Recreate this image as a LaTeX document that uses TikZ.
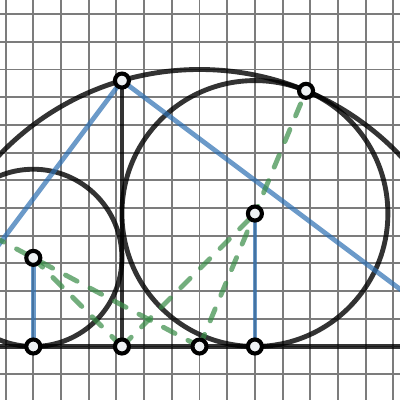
\documentclass[tikz,border=0pt]{standalone}
\usetikzlibrary{calc}
\definecolor{inkblack}{HTML}{000000}
\definecolor{inkblue}{HTML}{2D70B3}
\definecolor{inkgreen}{HTML}{388C46}
\definecolor{gridgray}{HTML}{7C7C7C}
\definecolor{dotfill}{HTML}{EEF1F3}
\tikzset{
  gridline/.style={draw=gridgray, line width=2pt},
  blackline/.style={draw=inkblack, draw opacity=0.8, line width=5pt},
  blueline/.style={draw=inkblue, draw opacity=0.7, line width=4.9pt},
  greenline/.style={draw=inkgreen, draw opacity=0.7, line width=5pt, line cap=round, dash pattern=on 13.5pt off 15pt},
  dotmark/.style={circle, draw=black, fill=dotfill, line width=4.2pt, minimum size=14.4pt, inner sep=0pt},
}
\begin{document}
\begin{tikzpicture}[x=1cm,y=1cm]
\useasboundingbox (-1.202,-1.931) rectangle (13.238,12.509);
\clip (-1.202,-1.931) rectangle (13.238,12.509);
\fill[white] (-1.202,-1.931) rectangle (13.238,12.509);
% grid
\foreach \i in {-1,...,13} \draw[gridline] (\i,-2) -- (\i,13);
\foreach \j in {-1,...,12} \draw[gridline] (-2,\j) -- (14,\j);
% points
\coordinate (A) at (0,0);
\coordinate (B) at (3.2,0);
\coordinate (C) at (6,0);
\coordinate (D) at (8,0);
\coordinate (E) at (0,3.2);
\coordinate (F) at (8,4.8);
\coordinate (G) at (3.2,9.6);
\coordinate (H) at ($(C)!10cm!(F)$);
\coordinate (P) at (-4,0);
\coordinate (Q) at (16,0);
\coordinate (L) at ($(C)!1.4!(E)$);
\coordinate (W) at (-2,0);
\coordinate (R) at (14,0);
% black
\draw[blackline] (W) -- (R);
\draw[blackline] (C) circle (10);
\draw[blackline] (E) circle (3.2);
\draw[blackline] (F) circle (4.8);
\draw[blackline] (B) -- (G);
% blue
\draw[blueline] (P) -- (G) -- (Q);
\draw[blueline] (A) -- (E);
\draw[blueline] (D) -- (F);
% green
\draw[greenline] (C) -- (L);
\draw[greenline] (E) -- (B);
\draw[greenline] (B) -- (F);
\draw[greenline] (C) -- (H);
% dots
\foreach \p in {A,B,C,D,E,F,G,H} \node[dotmark] (n\p) at (\p) {};
\end{tikzpicture}
\end{document}
